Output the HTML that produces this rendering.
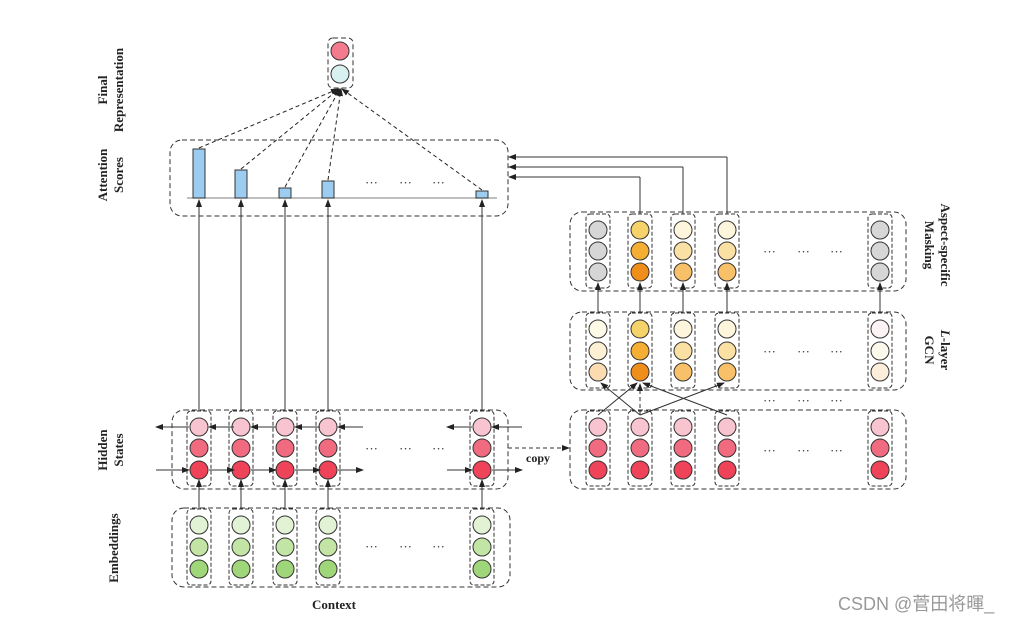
<!DOCTYPE html>
<html><head><meta charset="utf-8"><style>
html,body{margin:0;padding:0;background:#fff}
svg{display:block}
text{font-family:"Liberation Serif",serif;font-weight:bold;fill:#222}
</style></head><body>
<svg id="s" width="1015" height="622" viewBox="0 0 1015 622" xmlns="http://www.w3.org/2000/svg">
<defs>
<marker id="a" markerWidth="8" markerHeight="8" refX="7" refY="4" orient="auto" markerUnits="userSpaceOnUse"><path d="M0,1 L8,4 L0,7 z" fill="#222"/></marker>
</defs>
<g fill="none" stroke="#333" stroke-dasharray="5,3" stroke-width="1">
<rect x="172" y="508" width="338" height="79" rx="12"/>
<rect x="172" y="410" width="336" height="79" rx="12"/>
<rect x="170" y="140" width="338" height="76" rx="12"/>
<rect x="328" y="38" width="25" height="50" rx="5"/>
<rect x="570" y="410" width="336" height="79" rx="12"/>
<rect x="570" y="312" width="336" height="78" rx="12"/>
<rect x="570" y="212" width="336" height="79" rx="12"/>
</g>
<line x1="187" y1="198" x2="497" y2="198" stroke="#999" stroke-width="1.2"/>
<g fill="#9ccdf0" stroke="#333" stroke-width="1">
<rect x="193" y="149" width="12" height="49"/>
<rect x="235" y="170" width="12" height="28"/>
<rect x="279" y="188" width="12" height="10"/>
<rect x="322" y="181" width="12" height="17"/>
<rect x="476" y="191" width="12" height="7"/>
</g>
<g stroke="#333" stroke-width="1">
<circle cx="340" cy="51" r="9" fill="#f47a8e"/>
<circle cx="340" cy="74" r="9" fill="#d8f0f0"/>
</g>
<g stroke="#222" stroke-dasharray="4,3" stroke-width="1" marker-end="url(#a)">
<line x1="199" y1="148" x2="338" y2="89"/>
<line x1="241" y1="169" x2="339" y2="89"/>
<line x1="285" y1="187" x2="340" y2="89"/>
<line x1="328" y1="180" x2="341" y2="89"/>
<line x1="482" y1="190" x2="342" y2="89"/>
</g>
<g id="g"></g>
<text x="538" y="462" font-size="12" text-anchor="middle">copy</text>
<text transform="translate(113,90) rotate(-90)" font-size="13" text-anchor="middle"><tspan x="0" y="-6">Final</tspan><tspan x="0" y="10">Representation</tspan></text>
<text transform="translate(113,175) rotate(-90)" font-size="13" text-anchor="middle"><tspan x="0" y="-6">Attention</tspan><tspan x="0" y="10">Scores</tspan></text>
<text transform="translate(113,450) rotate(-90)" font-size="13" text-anchor="middle"><tspan x="0" y="-6">Hidden</tspan><tspan x="0" y="10">States</tspan></text>
<text transform="translate(118,548) rotate(-90)" font-size="13" text-anchor="middle">Embeddings</text>
<text transform="translate(935,245) rotate(90)" font-size="13" text-anchor="middle"><tspan x="0" y="-6">Aspect-specific</tspan><tspan x="0" y="10">Masking</tspan></text>
<text transform="translate(935,350) rotate(90)" font-size="13" text-anchor="middle"><tspan x="0" y="-6"><tspan font-style="italic">L</tspan>-layer</tspan><tspan x="0" y="10">GCN</tspan></text>
<text x="334" y="609" font-size="13" text-anchor="middle">Context</text>
<text x="838" y="610" font-size="18" style="font-family:'Liberation Sans','Noto Sans CJK SC',sans-serif;font-weight:normal;fill:#999">CSDN @菅田将暉_</text>
</svg>
<script>
var g=document.getElementById('g'),h='';
function col(x,ys,cs){h+='<rect x="'+(x-12)+'" y="'+(ys[0]-16)+'" width="24" height="'+(ys[2]-ys[0]+32)+'" rx="4" fill="none" stroke="#333" stroke-dasharray="4,2"/>';
for(var i=0;i<3;i++)h+='<circle cx="'+x+'" cy="'+ys[i]+'" r="9" fill="'+cs[i]+'" stroke="#333"/>';}
function ln(x1,y1,x2,y2,m,d){h+='<line x1="'+x1+'" y1="'+y1+'" x2="'+x2+'" y2="'+y2+'" stroke="#333" stroke-width="1"'+(m?' marker-end="url(#a)"':'')+(d?' stroke-dasharray="4,3"':'')+'/>';}
function dots(x,y){[0,34,67].forEach(function(o){h+='<text x="'+(x+o)+'" y="'+y+'" font-size="13" style="font-weight:normal;fill:#333">···</text>';});}
var L=[199,241,285,328,482],R=[598,640,683,727,880];
var E=['#e2f2d4','#c2e4a4','#a0d67a'],H=['#f8c4d0','#f06a80','#ee4358'];
L.forEach(function(x){col(x,[525,547,569],E);col(x,[427,448,470],H);ln(x,509,x,480,1);ln(x,411,x,200,1);});
for(var i=0;i<4;i++){ln(L[i]+35,427,L[i]+10,427,1);ln(L[i]+10,470,L[i]+35,470,1);}
ln(189,427,156,427,1);ln(156,470,189,470,1);
ln(472,427,447,427,1);ln(447,470,472,470,1);
ln(522,427,492,427,1);ln(492,470,522,470,1);
dots(365,453);dots(365,551);dots(365,187);
ln(508,448,569,448,1,1);
R.forEach(function(x){col(x,[427,448,470],H);});
var G=[['#fefae8','#fdf0d4','#fbdcb0'],['#f5d36a','#f3ae33','#f08e1c'],['#fdf6dc','#fbe0a4','#f9c06a'],['#fdf6dc','#fbe0a4','#f9c06a'],['#fdf2f4','#fdf8ec','#fdeedc']];
var M=[['#d6d6d6','#d6d6d6','#d6d6d6'],G[1],G[2],G[3],['#d6d6d6','#d6d6d6','#d6d6d6']];
R.forEach(function(x,i){col(x,[329,351,372],G[i]);col(x,[230,251,272],M[i]);ln(x,313,x,283,1);});
dots(763,455);dots(763,356);dots(763,256);dots(763,405);
ln(598,415,637,383,1);ln(640,415,601,383,1);ln(640,415,640,384,1,1);ln(640,415,724,383,1);ln(727,415,643,383,1);
ln(727,214,727,157);ln(727,157,509,157,1);
ln(683,214,683,167);ln(683,167,509,167,1);
ln(640,214,640,177);ln(640,177,509,177,1);
g.innerHTML=h;
</script>
</body></html>
